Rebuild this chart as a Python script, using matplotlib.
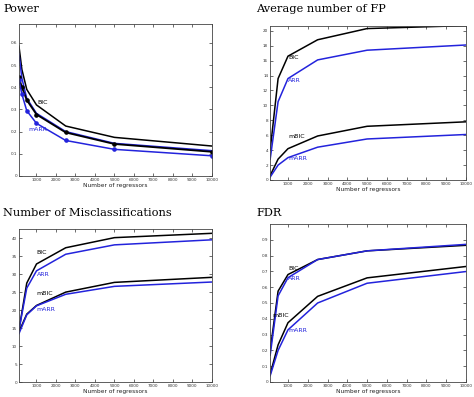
import matplotlib
matplotlib.use("Agg")
import matplotlib.pyplot as plt

BLUE = "#2323dc"
BLACK = "#000000"

# --- data ---
x_power = [100, 250, 500, 1000, 2500, 5000, 10000]
power_BIC = [0.585, 0.48, 0.39, 0.32, 0.225, 0.174, 0.135]
power_ARR = [0.55, 0.44, 0.35, 0.282, 0.20, 0.147, 0.114]
power_mBIC = [0.444, 0.40, 0.342, 0.277, 0.196, 0.144, 0.109]
power_mARR = [0.432, 0.369, 0.294, 0.237, 0.160, 0.120, 0.091]

x_vals = [100, 500, 1000, 2500, 5000, 10000]
fp_BIC = [4.0, 13.6, 16.6, 18.8, 20.3, 20.7]
fp_ARR = [2.8, 10.5, 13.6, 16.1, 17.4, 18.1]
fp_mBIC = [0.6, 2.8, 4.2, 5.9, 7.2, 7.8]
fp_mARR = [0.4, 2.0, 3.0, 4.4, 5.5, 6.1]

mis_BIC = [14.5, 27.5, 32.8, 37.3, 40.1, 41.3]
mis_ARR = [14.5, 26.1, 30.9, 35.5, 38.1, 39.5]
mis_mBIC = [14.0, 18.9, 21.3, 25.0, 27.7, 29.1]
mis_mARR = [13.5, 18.7, 21.2, 24.4, 26.6, 27.8]

fdr_BIC = [0.20, 0.575, 0.68, 0.775, 0.83, 0.865]
fdr_ARR = [0.17, 0.545, 0.66, 0.775, 0.83, 0.871]
fdr_mBIC = [0.05, 0.235, 0.375, 0.542, 0.659, 0.731]
fdr_mARR = [0.04, 0.20, 0.33, 0.50, 0.625, 0.699]

xticks = [1000, 2000, 3000, 4000, 5000, 6000, 7000, 8000, 9000, 10000]

fig = plt.figure(figsize=(4.74, 3.97), dpi=100)

def make_ax(rect, ylim, yticks, ylabels):
    ax = fig.add_axes(rect)
    ax.set_xlim(100, 10000)
    ax.set_ylim(*ylim)
    ax.set_xticks(xticks)
    ax.set_xticklabels([str(t) for t in xticks])
    ax.set_yticks(yticks)
    ax.set_yticklabels(ylabels)
    ax.tick_params(direction="in", top=True, right=True, length=2, width=0.5,
                   labelsize=3, pad=1.5, colors="#333333")
    for s in ax.spines.values():
        s.set_linewidth(0.6)
        s.set_color("#444444")
    ax.set_xlabel("Number of regressors", fontsize=4.2, labelpad=0.5, color="#222222")
    return ax

title_kw = dict(fontsize=8.2, family="DejaVu Serif", va="center", ha="left")

# Power
ax1 = make_ax([0.040, 0.5567, 0.407, 0.383], (0, 0.685),
              [0, 0.1, 0.2, 0.3, 0.4, 0.5, 0.6],
              ["0", "0.1", "0.2", "0.3", "0.4", "0.5", "0.6"])
ax1.plot(x_power, power_BIC, color=BLACK, lw=1.1)
ax1.plot(x_power, power_ARR, color=BLUE, lw=1.1)
ax1.plot(x_power, power_mBIC, color=BLACK, lw=1.3, marker="o", ms=2.3)
ax1.plot(x_power, power_mARR, color=BLUE, lw=1.1, marker="o", ms=2.3)
ax1.text(1050, 0.33, "BIC", fontsize=4.5, color=BLACK, va="center")
ax1.text(600, 0.21, "mARR", fontsize=4.5, color=BLUE, va="center")
fig.text(3 / 474, 1 - 9 / 397, "Power", **title_kw)

# Average number of FP
ax2 = make_ax([0.570, 0.5466, 0.413, 0.388], (0, 20.65),
              list(range(0, 21, 2)), [str(v) for v in range(0, 21, 2)])
ax2.plot(x_vals, fp_BIC, color=BLACK, lw=1.1)
ax2.plot(x_vals, fp_ARR, color=BLUE, lw=1.1)
ax2.plot(x_vals, fp_mBIC, color=BLACK, lw=1.1)
ax2.plot(x_vals, fp_mARR, color=BLUE, lw=1.1)
ax2.text(1000, 16.4, "BIC", fontsize=4.5, color=BLACK, va="center")
ax2.text(1000, 13.3, "ARR", fontsize=4.5, color=BLUE, va="center")
ax2.text(1000, 5.8, "mBIC", fontsize=4.5, color=BLACK, va="center")
ax2.text(1000, 2.9, "mARR", fontsize=4.5, color=BLUE, va="center")
fig.text(256 / 474, 1 - 9 / 397, "Average number of FP", **title_kw)

# Number of Misclassifications
ax3 = make_ax([0.040, 0.037, 0.407, 0.3862], (0, 42.5),
              list(range(0, 41, 5)), [str(v) for v in range(0, 41, 5)])
ax3.plot(x_vals, mis_BIC, color=BLACK, lw=1.1)
ax3.plot(x_vals, mis_ARR, color=BLUE, lw=1.1)
ax3.plot(x_vals, mis_mBIC, color=BLACK, lw=1.1)
ax3.plot(x_vals, mis_mARR, color=BLUE, lw=1.1)
ax3.text(1000, 35.9, "BIC", fontsize=4.5, color=BLACK, va="center")
ax3.text(1000, 30.0, "ARR", fontsize=4.5, color=BLUE, va="center")
ax3.text(1000, 24.5, "mBIC", fontsize=4.5, color=BLACK, va="center")
ax3.text(1000, 20.3, "mARR", fontsize=4.5, color=BLUE, va="center")
fig.text(3 / 474, 1 - 213 / 397, "Number of Misclassifications", **title_kw)

# FDR
fdr_ticks = [0, 0.1, 0.2, 0.3, 0.4, 0.5, 0.6, 0.7, 0.8, 0.9]
ax4 = make_ax([0.570, 0.0378, 0.413, 0.398], (0, 1.0),
              fdr_ticks, ["0"] + ["%.1f" % v for v in fdr_ticks[1:]])
ax4.plot(x_vals, fdr_BIC, color=BLACK, lw=1.1)
ax4.plot(x_vals, fdr_ARR, color=BLUE, lw=1.1)
ax4.plot(x_vals, fdr_mBIC, color=BLACK, lw=1.1)
ax4.plot(x_vals, fdr_mARR, color=BLUE, lw=1.1)
ax4.text(1000, 0.72, "BIC", fontsize=4.5, color=BLACK, va="center")
ax4.text(1000, 0.655, "ARR", fontsize=4.5, color=BLUE, va="center")
ax4.text(200, 0.42, "mBIC", fontsize=4.5, color=BLACK, va="center")
ax4.text(1000, 0.326, "mARR", fontsize=4.5, color=BLUE, va="center")
fig.text(256 / 474, 1 - 213 / 397, "FDR", **title_kw)

fig.savefig("out.png", dpi=100)
